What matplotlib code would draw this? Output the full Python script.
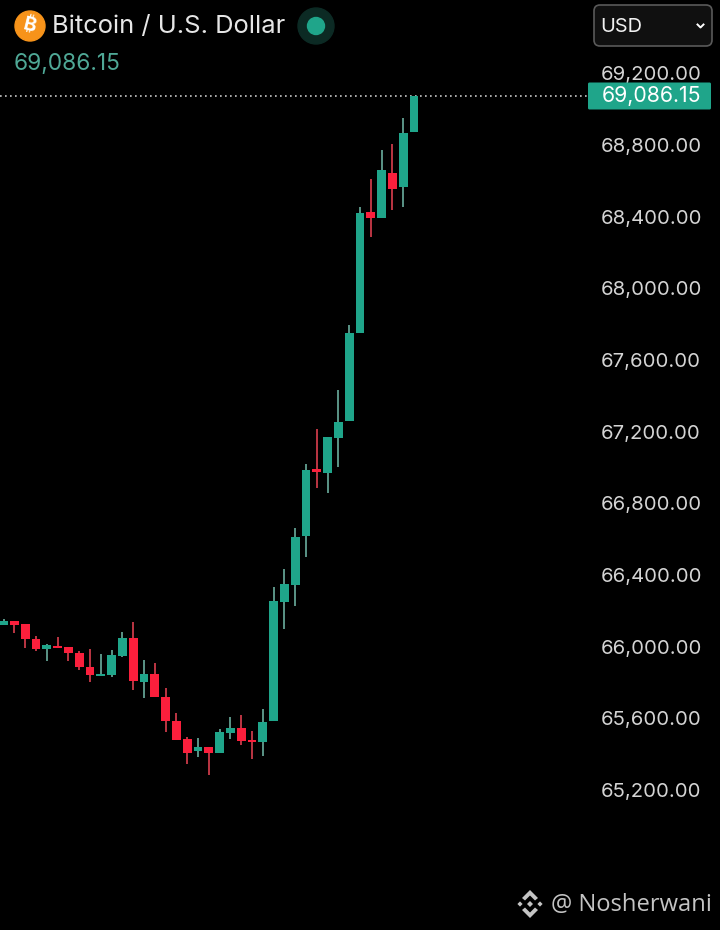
import matplotlib
matplotlib.use("Agg")
import matplotlib.pyplot as plt
from matplotlib.patches import Circle, FancyBboxPatch, Polygon
from matplotlib.transforms import ScaledTranslation
import numpy as np

opens = [66134, 66156, 66137, 66055, 65996, 66015, 66007, 65974, 65899, 65846,
         65851, 65961, 66061, 65812, 65857, 65728, 65598, 65496, 65429, 65449,
         65416, 65531, 65555, 65492, 65477, 65595, 66260, 66353, 66628, 67001,
         66982, 67175, 67270, 67761, 68436, 68403, 68656, 68576, 68884]
highs = [66165, 66156, 66137, 66070, 66024, 66063, 66007, 65988, 66000, 65970,
         65992, 66095, 66147, 65935, 65922, 65782, 65643, 65505, 65500, 65449,
         65550, 65617, 65630, 65542, 65661, 66346, 66443, 66671, 67029, 67224,
         67183, 67443, 67806, 68466, 68621, 68782, 68814, 68959, 69086.15]
lows = [66134, 66089, 66004, 65987, 65933, 66005, 65931, 65881, 65812, 65846,
        65840, 65952, 65769, 65726, 65728, 65536, 65490, 65356, 65394, 65295,
        65416, 65494, 65461, 65384, 65403, 65595, 66108, 66240, 66513, 66898,
        66868, 67012, 67270, 67761, 68299, 68403, 68448, 68466, 68884]
closes = [66156, 66134, 66055, 65998, 66019, 66005, 65974, 65896, 65851, 65857,
          65965, 66061, 65818, 65857, 65728, 65596, 65490, 65418, 65449, 65416,
          65536, 65555, 65486, 65477, 65591, 66266, 66361, 66621, 66998, 66986,
          67183, 67266, 67761, 68433, 68403, 68671, 68566, 68877, 69086.15]
price_ticks = [65200, 65600, 66000, 66400, 66800, 67200, 67600, 68000, 68400, 68800, 69200]
last_price = 69086.15
title = "Bitcoin / U.S. Dollar"
currency = "USD"
credit = "@ Nosherwani"

GREEN = "#1fa58a"
GREEN_WICK = "#66a797"
RED = "#fb1f3c"
RED_WICK = "#d23c4c"
TEXT = "#d4d4d4"
FONT = ["Inter", "DejaVu Sans"]

fig = plt.figure(figsize=(7.2, 9.3), dpi=100, facecolor="black")
ax = fig.add_axes([0, 0, 587 / 720, 1], facecolor="black")

o, h, l, c = map(np.array, (opens, highs, lows, closes))
idx = np.arange(len(o))
up = c >= o
ax.vlines(idx[up], l[up], h[up], color=GREEN_WICK, lw=1.25, zorder=2)
ax.vlines(idx[~up], l[~up], h[~up], color=RED_WICK, lw=1.25, zorder=2)
bottom = np.minimum(o, c)
height = np.abs(c - o)
ax.bar(idx[up], height[up], bottom=bottom[up], width=0.8, color=GREEN, linewidth=0, zorder=3)
ax.bar(idx[~up], height[~up], bottom=bottom[~up], width=0.8, color=RED, linewidth=0, zorder=3)
ax.axhline(last_price, color="#c8c8c8", lw=1.2, ls=(0, (1, 2)), zorder=1)

# index i sits at 3.6 + 10.8 i px, price p at 792 - 0.1792 (p - 65200) px
ax.set_xlim(-3.6 / 10.8, (587 - 3.6) / 10.8)
ax.set_ylim(65200 + (792 - 930) * 5.58, 65200 + 792 * 5.58)
for s in ax.spines.values():
    s.set_visible(False)
ax.set_xticks([])
ax.yaxis.tick_right()
ax.set_yticks(price_ticks)
ax.set_yticklabels([f"{p:,.2f}" for p in price_ticks], fontsize=14.6, color=TEXT, family=FONT)
ax.tick_params(axis="y", length=0, pad=10.2)
shift = ScaledTranslation(0, 2 / 100, fig.dpi_scale_trans)
for lab in ax.get_yticklabels():
    lab.set_transform(lab.get_transform() + shift)

ov = fig.add_axes([0, 0, 1, 1], facecolor="none")
ov.set_xlim(0, 720)
ov.set_ylim(930, 0)
ov.axis("off")

# header
ov.add_patch(Circle((30, 26), 15, color="#f7931a"))
ov.text(30, 26, "₿", color="white", fontsize=14, fontweight="bold", ha="center", va="center",
        rotation=-14, family=["Inter", "Roboto", "Noto Sans", "Open Sans", "Lato", "Liberation Sans", "DejaVu Sans"])
ov.text(52, 27, title, color="#e6e6e6", fontsize=18.4, ha="left", va="center", family=FONT)
ov.add_patch(Circle((316, 26), 18, color="#0c2a24"))
ov.add_patch(Circle((316, 26), 8.5, color="#1fa58a"))
ov.text(14, 64, f"{last_price:,.2f}", color="#4fa896", fontsize=16.4, ha="left", va="center", family=FONT)

# currency selector
ov.add_patch(FancyBboxPatch((594, 5), 118, 41, boxstyle="round,pad=0,rounding_size=6",
                            fc="#101010", ec="#5a5a5a", lw=1.2))
ov.text(600, 26.5, currency, color="#f0f0f0", fontsize=14.4, ha="left", va="center", family=FONT)
ov.plot([697.5, 700.5, 703.5], [24.5, 27.5, 24.5], color="white", lw=1.4)

# last price tag
ov.add_patch(FancyBboxPatch((588, 82.5), 123, 27, boxstyle="round,pad=0,rounding_size=1.5",
                            fc="#1fa58a", ec="none"))
ov.text(701, 95.5, f"{last_price:,.2f}", color="white", fontsize=15.3, ha="right", va="center", family=FONT)

# watermark
col = "#c4c4c4"
cx, cy = 530, 904
def diamond(x, y, r):
    return Polygon([(x, y - r), (x + r, y), (x, y + r), (x - r, y)], closed=True, fc=col, ec="none")
ov.add_patch(diamond(cx, cy, 3))
ov.add_patch(diamond(cx - 10, cy, 2.6))
ov.add_patch(diamond(cx + 10, cy, 2.6))
ov.add_patch(Polygon([(cx, cy - 14), (cx + 8, cy - 6), (cx + 5, cy - 3.5), (cx, cy - 8.5), (cx - 5, cy - 3.5), (cx - 8, cy - 6)],
                     closed=True, fc=col, ec="none"))
ov.add_patch(Polygon([(cx, cy + 14), (cx + 8, cy + 6), (cx + 5, cy + 3.5), (cx, cy + 8.5), (cx - 5, cy + 3.5), (cx - 8, cy + 6)],
                     closed=True, fc=col, ec="none"))
ov.text(551, 904.5, credit, color=col, fontsize=17.1, ha="left", va="center", family=["Open Sans", "DejaVu Sans"])

fig.savefig("out.png", dpi=100, facecolor="black")
